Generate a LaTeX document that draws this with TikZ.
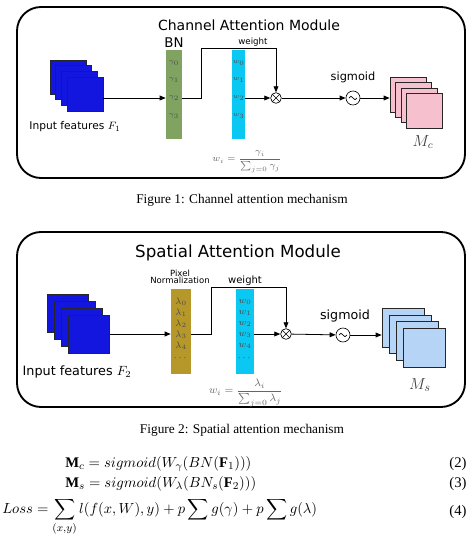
\documentclass[tikz,border=0pt]{standalone}
\usepackage{amsmath,amsfonts,amssymb}
\usepackage{fontspec}
\setmainfont{Liberation Serif}
\newfontfamily\diagfont{DejaVu Sans}
\usepackage{xcolor}
\usepackage{tikz}
\usetikzlibrary{arrows.meta,positioning,calc}

\definecolor{inblue}{RGB}{18,22,222}
\definecolor{bngreen}{RGB}{128,163,98}
\definecolor{wcyan}{RGB}{10,200,242}
\definecolor{pnolive}{RGB}{182,152,42}
\definecolor{mcpink}{RGB}{246,192,206}
\definecolor{mslight}{RGB}{182,212,246}
\newcommand{\dfs}[1]{\diagfont\fontsize{#1}{#1}\selectfont}

\begin{document}
\begin{tikzpicture}[x=0.75pt,y=-0.75pt,
  module/.style={line width=1.4pt,rounded corners=18pt},
  fmap/.style={draw=black!85,line width=0.5pt,inner sep=0pt},
  bar/.style={inner sep=0pt,draw=none},
  op/.style={circle,draw,line width=0.5pt,minimum size=8pt,inner sep=0pt},
  arr/.style={-{Triangle[length=4.5pt,width=3.6pt]},line width=0.6pt},
  barlab/.style={inner sep=0pt,text=black!70}]
\useasboundingbox (0,0) rectangle (474,540);

% channel attention module
\draw[module] (17,7) rectangle (465,178);
\node (titleA) at (249,25) {\dfs{10.5}Channel Attention Module};
\node (bnlabA) at (174,43) {\dfs{10}BN};

\foreach \k in {0,...,3}
  \node[fmap,fill=inblue,minimum width=27pt,minimum height=25.5pt] (inA\k) at ({68+5.7*\k},{77+5.7*\k}) {};
\node (intxtA) at (75,127) {\dfs{8}Input features $F_1$};

\node[bar,fill=bngreen,minimum width=12pt,minimum height=67pt] (bnA) at (174,94.5) {};
\node[bar,fill=wcyan,minimum width=10pt,minimum height=67pt] (wA) at (238.5,94.5) {};
\foreach \k/\y in {0/63,1/80,2/98,3/116} {
  \node[barlab] (gA\k) at (174,\y) {\tiny$\gamma_\k$};
  \node[barlab] (wA\k) at (238.5,\y) {\tiny$w_\k$};
}
\node[op] (mulA) at (276,98) {};
\draw[line width=0.5pt] (mulA.north west) -- (mulA.south east) (mulA.north east) -- (mulA.south west);
\node[op,minimum size=10.5pt] (sigA) at (353,98) {};
\draw[line width=0.5pt] ([xshift=-3pt]sigA.center) sin ++(1.5pt,1.3pt) cos ++(1.5pt,-1.3pt) sin ++(1.5pt,-1.3pt) cos ++(1.5pt,1.3pt);
\node (sigtxtA) at (353,77) {\dfs{8.5}sigmoid};
\node (wtxtA) at (253,42) {\dfs{6.5}weight};

\foreach \k in {0,...,3}
  \node[fmap,fill=mcpink,minimum width=27pt,minimum height=26pt] (mapA\k) at ({408+5.6*\k},{94.5+5.4*\k}) {};
\node[text=black!75] (mcA) at (423,142) {\fontsize{12}{12}\selectfont$M_c$};
\node[text=black!60] (fracA) at (247,162) {\scriptsize$w_i=\dfrac{\gamma_i}{\sum_{j=0}\gamma_j}$};

\coordinate (bendA) at (201,48);
\draw[arr] (inA3.east |- mulA) -- (bnA.west |- mulA);
\draw[arr] (bnA.east |- mulA) -| (bendA) -| (mulA);
\draw[arr] (wA.east |- mulA) -- (mulA);
\draw[arr] (mulA) -- (sigA);
\draw[arr] (sigA) -- (mapA0.west |- sigA);

\node (capA) at (242,200) {Figure 1: Channel attention mechanism};

% spatial attention module
\draw[module] (17,232) rectangle (465,407);
\node (titleB) at (238,253) {\dfs{12.5}Spatial Attention Module};

\foreach \k in {0,...,3}
  \node[fmap,fill=inblue,minimum width=31pt,minimum height=28.5pt] (inB\k) at ({67.5+7*\k},{313.5+6.8*\k}) {};
\node (intxtB) at (77,372) {\dfs{9.6}Input features $F_2$};

\node[bar,fill=pnolive,minimum width=15pt,minimum height=64pt] (bnB) at (181,331.5) {};
\node[bar,fill=wcyan,minimum width=13.5pt,minimum height=64pt] (wB) at (245,331.5) {};
\foreach \k/\y in {0/302,1/313,2/324,3/335,4/346} {
  \node[barlab] (lB\k) at (181,\y) {\scriptsize$\lambda_\k$};
  \node[barlab] (wB\k) at (245,\y) {\scriptsize$w_\k$};
}
\node[barlab] (ldotsB) at (181,358) {\scriptsize$\cdots$};
\node[barlab] (wdotsB) at (245,358) {\scriptsize$\cdots$};
\node (pntxtB) at (180,278) {\dfs{6.4}\begin{tabular}{@{}c@{}}Pixel\\[-1pt]Normalization\end{tabular}};
\node (wtxtB) at (245,281) {\dfs{7.5}weight};

\node[op] (mulB) at (286,334) {};
\draw[line width=0.5pt] (mulB.north west) -- (mulB.south east) (mulB.north east) -- (mulB.south west);
\node[op,minimum size=10.5pt] (sigB) at (343,335) {};
\draw[line width=0.5pt] ([xshift=-3pt]sigB.center) sin ++(1.5pt,1.3pt) cos ++(1.5pt,-1.3pt) sin ++(1.5pt,-1.3pt) cos ++(1.5pt,1.3pt);
\node (sigtxtB) at (345,316) {\dfs{9.5}sigmoid};

\foreach \k in {0,...,3}
  \node[fmap,fill=mslight,minimum width=31.5pt,minimum height=29pt] (mapB\k) at ({403+7*\k},{327.5+6.8*\k}) {};
\node[text=black!75] (msA) at (420,385) {\fontsize{13}{13}\selectfont$M_s$};
\node[text=black!60] (fracB) at (246,393) {\footnotesize$w_i=\dfrac{\lambda_i}{\sum_{j=0}\lambda_j}$};

\coordinate (bendB) at (211,287);
\draw[arr] (inB3.east |- mulB) -- (bnB.west |- mulB);
\draw[arr] (bnB.east |- mulB) -| (bendB) -| (mulB);
\draw[arr] (wB.east |- mulB) -- (mulB);
\draw[arr] (mulB) -- (sigB);
\draw[arr] (sigB) -- (mapB0.west |- sigB);

\node (capB) at (242,430) {Figure 2: Spatial attention mechanism};

% equations
\node[anchor=west,inner sep=0pt] (eqM) at (65,464) {\fontsize{11}{13}\selectfont$\mathbf{M}_c = sigmoid(W_\gamma(BN(\mathbf{F}_1)))$};
\node[anchor=west,inner sep=0pt] (eqS) at (65,483.5) {\fontsize{11}{13}\selectfont$\mathbf{M}_s = sigmoid(W_\lambda(BN_s(\mathbf{F}_2)))$};
\node[anchor=west,inner sep=0pt] (eqL) at (2,517) {\fontsize{11}{13}\selectfont$\displaystyle Loss = \sum_{(x,y)} l(f(x,W),y) + p\sum g(\gamma) + p\sum g(\lambda)$};
\node (numM) at (458,464) {\fontsize{11}{13}\selectfont(2)};
\node (numS) at (458,483.5) {\fontsize{11}{13}\selectfont(3)};
\node (numL) at (458,512) {\fontsize{11}{13}\selectfont(4)};
\end{tikzpicture}
\end{document}
